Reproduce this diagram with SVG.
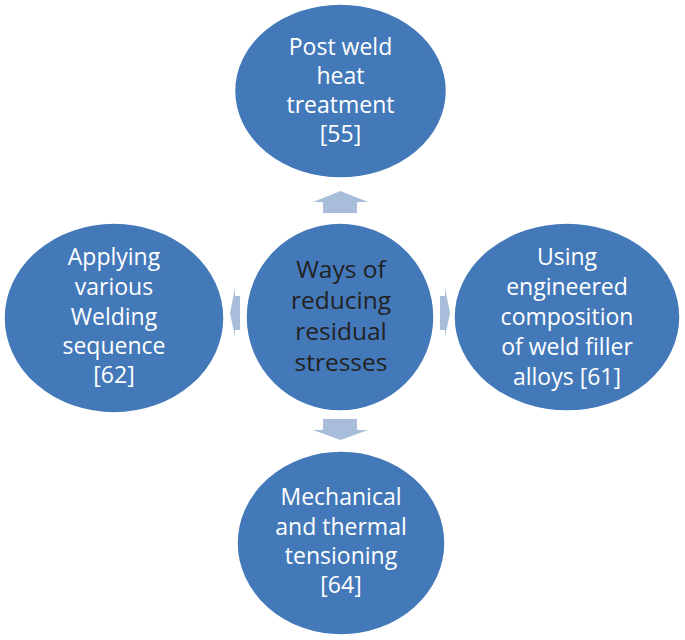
<svg xmlns="http://www.w3.org/2000/svg" width="685" height="640" viewBox="0 0 685 640">
<style>
.node{fill:#4479B9;stroke:#ffffff;stroke-width:1.5}
.arr{fill:#A7BDDA}
text{font-family:"Open Sans","Liberation Sans",sans-serif;font-size:23px;text-anchor:middle}
.w{fill:#ffffff}
.d{fill:#222222;font-size:24.5px}
</style>
<rect width="685" height="640" fill="#ffffff"/>
<g id="connectors">
<polygon class="arr" points="340.5,191 368,202 357,202 357,213 323,213 323,202 313,202"/>
<polygon class="arr" points="340.5,440 368,430 357,430 357,419 323,419 323,430 313,430"/>
<polygon class="arr" points="230,313 235,288 235,296 240,296 240,330 235,330 235,337"/>
<polygon class="arr" points="450,313 445,288 445,296 440,296 440,330 445,330 445,337"/>
</g>
<g id="top">
<ellipse class="node" cx="340.5" cy="91" rx="106" ry="87"/>
<text class="w" x="340.5" y="55">Post weld</text>
<text class="w" x="340.5" y="84">heat</text>
<text class="w" x="340.5" y="113">treatment</text>
<text class="w" x="340.5" y="142">[55]</text>
</g>
<g id="center">
<ellipse class="node" cx="340" cy="317" rx="94" ry="94"/>
<text class="d" x="341" y="278">Ways of</text>
<text class="d" x="341" y="309">reducing</text>
<text class="d" x="341" y="340">residual</text>
<text class="d" x="341" y="371">stresses</text>
</g>
<g id="left">
<ellipse class="node" cx="114" cy="318" rx="110" ry="95"/>
<text class="w" x="114" y="265">Applying</text>
<text class="w" x="114" y="295">various</text>
<text class="w" x="114" y="325">Welding</text>
<text class="w" x="114" y="354">sequence</text>
<text class="w" x="114" y="383">[62]</text>
</g>
<g id="right">
<ellipse class="node" cx="567" cy="317" rx="113" ry="94"/>
<text class="w" x="567" y="265">Using</text>
<text class="w" x="567" y="295">engineered</text>
<text class="w" x="567" y="325">composition</text>
<text class="w" x="567" y="355">of weld filler</text>
<text class="w" x="567" y="385">alloys [61]</text>
</g>
<g id="bottom">
<ellipse class="node" cx="341" cy="543" rx="104" ry="92"/>
<text class="w" x="341" y="505">Mechanical</text>
<text class="w" x="341" y="535">and thermal</text>
<text class="w" x="341" y="564">tensioning</text>
<text class="w" x="341" y="593">[64]</text>
</g>
</svg>
